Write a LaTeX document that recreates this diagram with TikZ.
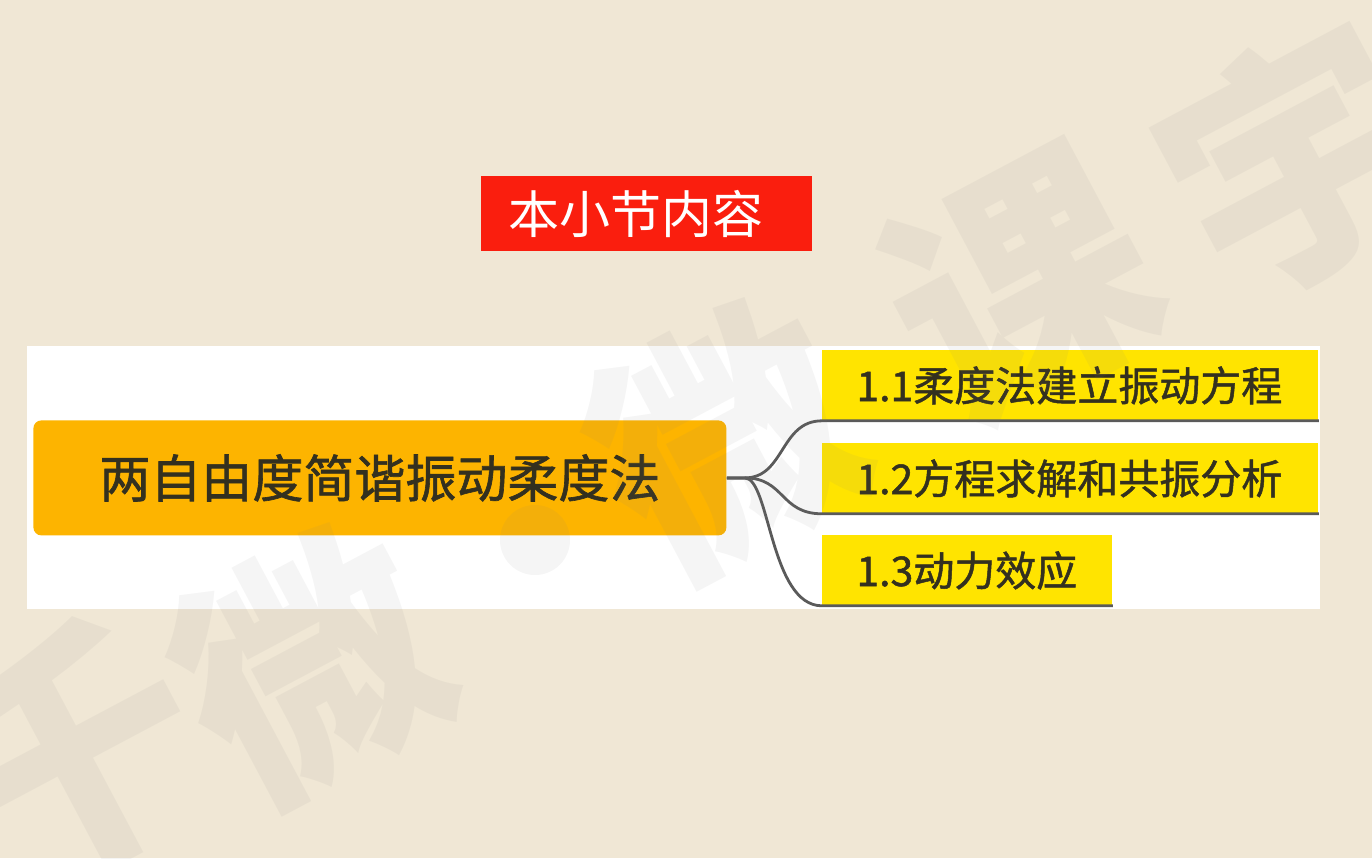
\documentclass[tikz,border=0pt]{standalone}
\usepackage{fontspec}
\setmainfont{Noto Sans CJK SC}
\newfontfamily\heavycjk{Noto Sans CJK SC}[FakeBold=1.2]
\usepackage{xcolor}
\usepackage{tikz}
\definecolor{paperBeige}{HTML}{F0E7D5}
\definecolor{titleRed}{HTML}{FA1E0E}
\definecolor{rootOrange}{HTML}{FDB400}
\definecolor{leafYellow}{HTML}{FFE400}
\definecolor{inkDark}{HTML}{33301F}
\definecolor{branchGray}{HTML}{5A5A5A}

\begin{document}
\begin{tikzpicture}[x=0.5pt, y=-0.5pt,
    leaf/.style={fill=leafYellow, text=inkDark, anchor=north west, inner xsep=17pt, inner ysep=0pt,
      minimum height=35pt, align=left, font=\heavycjk\fontsize{20.5}{22}\selectfont},
    branch/.style={draw=branchGray, line width=1.4pt},
    watermark/.style={rotate=28, text=gray, opacity=0.08, font=\fontsize{128}{128}\selectfont\bfseries}]
                \useasboundingbox (0,0) rectangle (1372,858);
                \fill[paperBeige] (0,0) rectangle (1372,858);
                \fill[white] (27,346) rectangle (1320,609);

                \node[fill=titleRed, text=white, anchor=north west, minimum height=37.5pt, inner xsep=13.5pt, inner ysep=0pt,
                  text width=138.5pt, align=left, font=\fontsize{25.5}{28}\selectfont] (title) at (481,176) {本小节内容};

                \node[fill=rootOrange, rounded corners=4pt, text=inkDark, anchor=north west, minimum width=346.5pt,
                  minimum height=57.5pt, font=\heavycjk\fontsize{25.5}{28}\selectfont] (main) at (33,420) {两自由度简谐振动柔度法};

                \node[leaf, text width=214pt] (c1) at (822,350) {1.1柔度法建立振动方程};
                \node[leaf, text width=214pt] (c2) at (822,443) {1.2方程求解和共振分析};
                \node[leaf, text width=111pt] (c3) at (822,535) {1.3动力效应};

                \draw[branch] (main.east) -- ++(18,0) .. controls +(40,0) and +(-42,0) .. (c1.south west) -- (c1.south east);
                \draw[branch] (main.east) -- ++(18,0) .. controls +(40,0) and +(-42,0) .. (c2.south west) -- (c2.south east);
                \draw[branch] (main.east) -- ++(18,0) .. controls +(25,0) and +(-52,0) .. (c3.south west) -- (c3.south east);

                \foreach \ch/\px/\py in {千/70/755, 微/310/665, 微/725/440, 课/1020/285, 宇/1295/160}
                  \node[watermark] (wm-\px) at (\px,\py) {\ch};
                \node[circle, fill=gray, opacity=0.08, inner sep=0pt, minimum size=35pt] (wm-dot) at (535,540) {};
            \end{tikzpicture}
\end{document}
